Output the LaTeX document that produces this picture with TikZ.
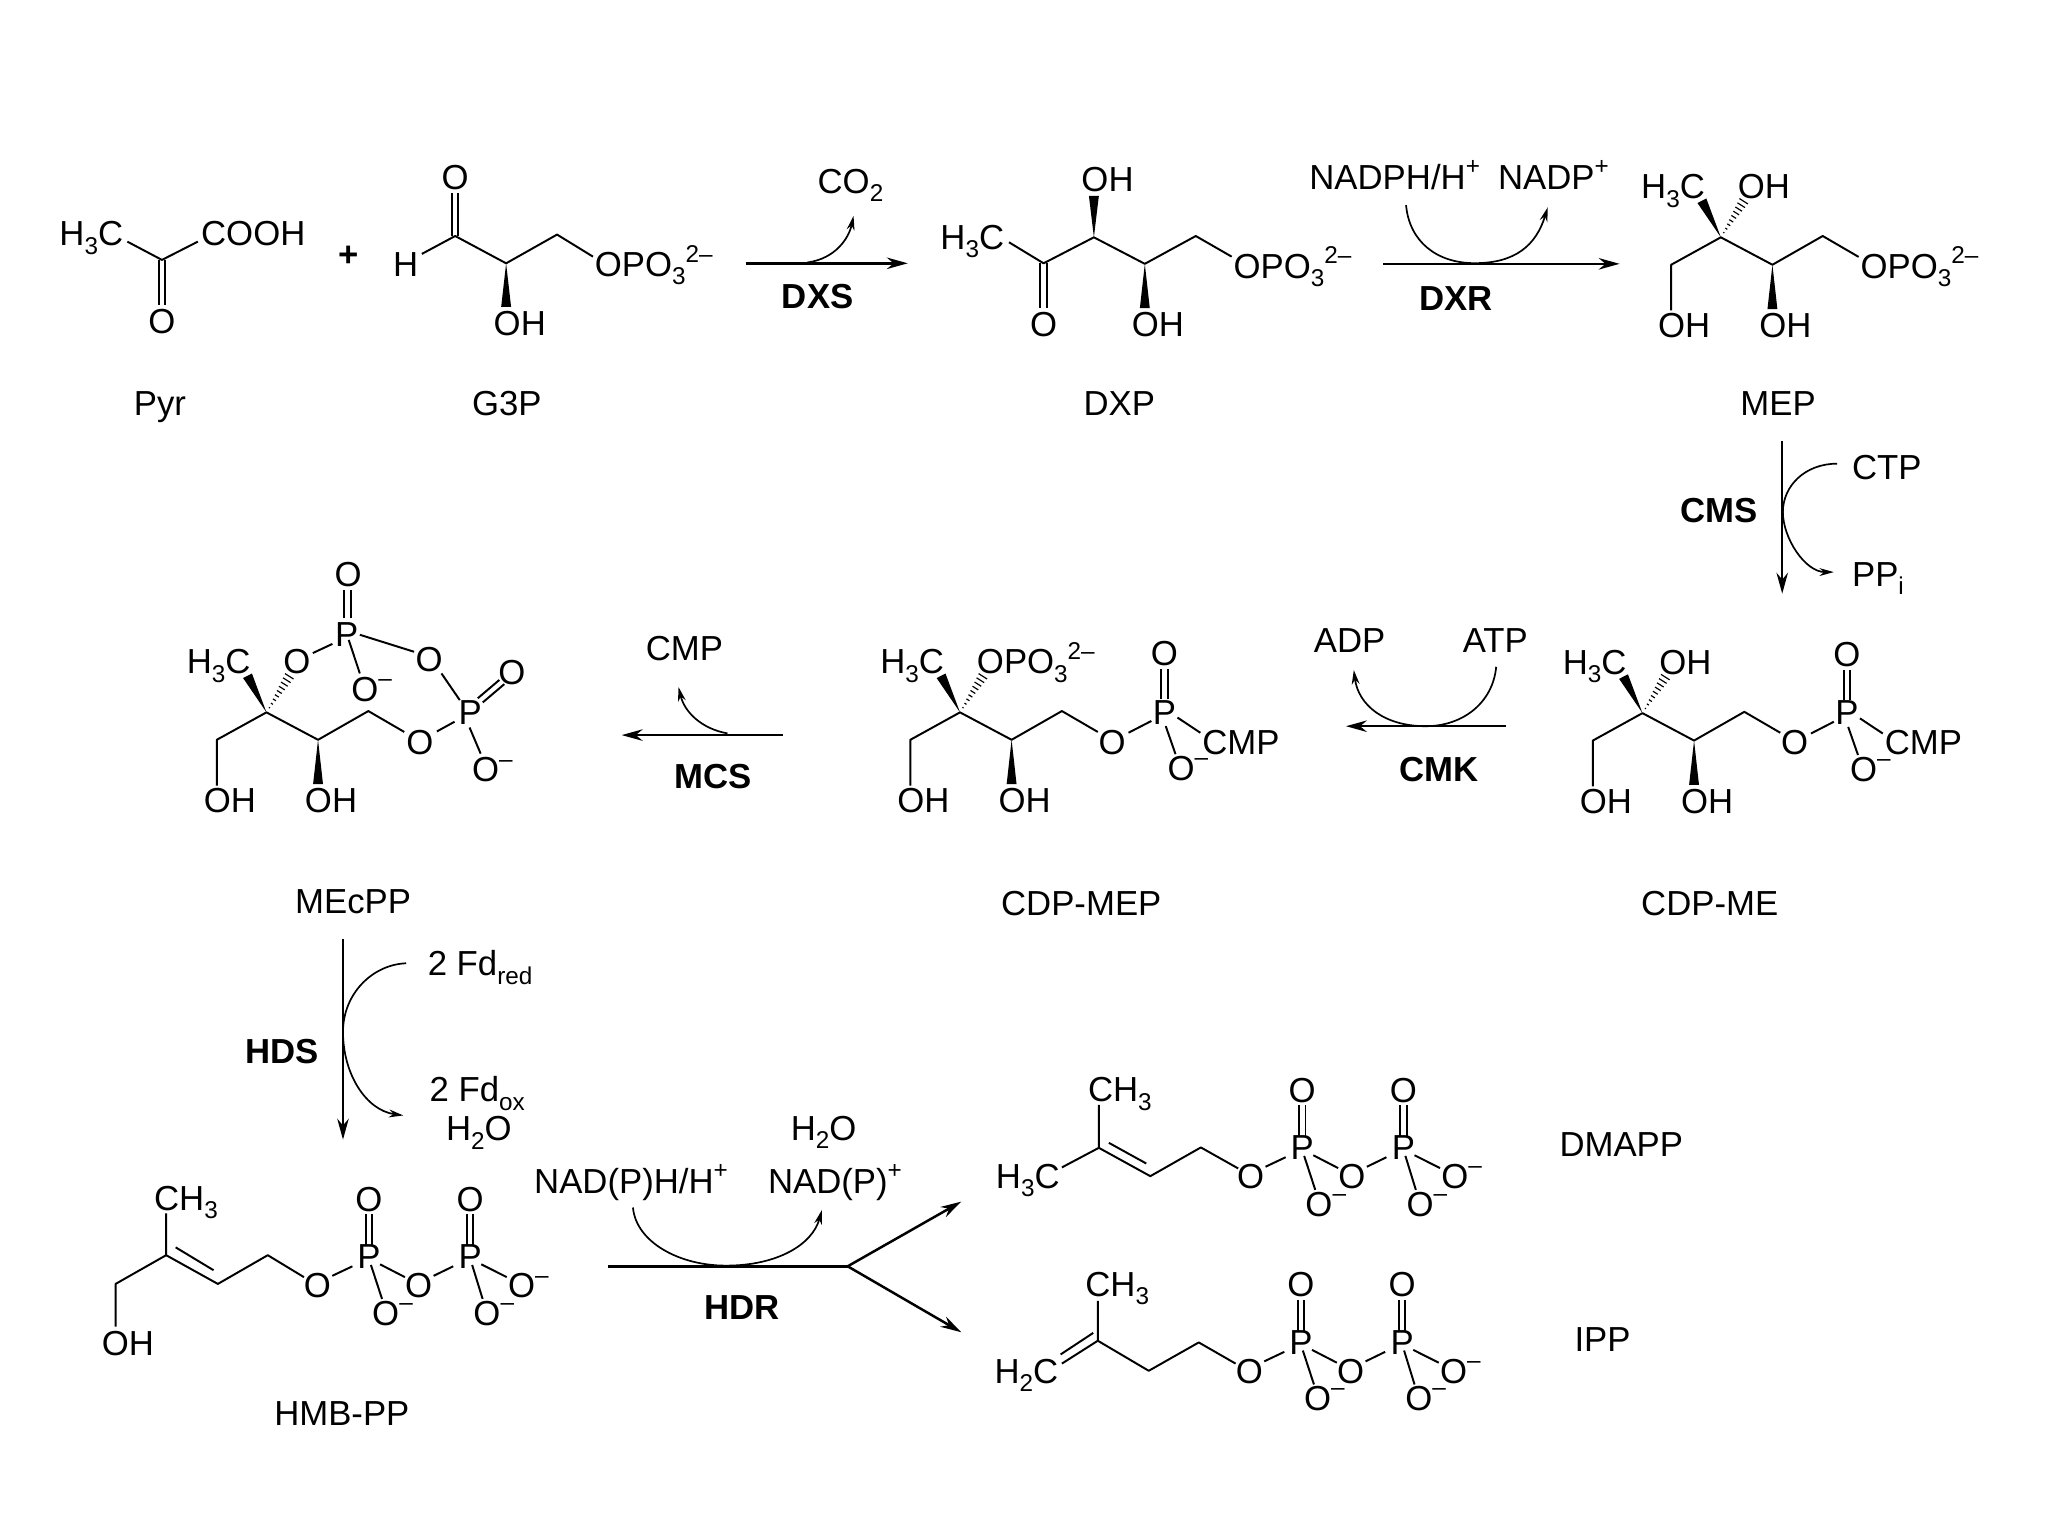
\documentclass[tikz,border=0pt]{standalone}
\usepackage{fontspec}
\setmainfont{Liberation Sans}
\usetikzlibrary{arrows.meta,calc}
\newcommand{\sbb}[1]{\raisebox{-3.2pt}{\fontsize{9.3}{10}\selectfont #1}}
\newcommand{\spp}[1]{\raisebox{5.6pt}{\fontsize{9.3}{10}\selectfont #1}}
\newcommand{\opo}{OPO\sbb{3}\spp{2–}}
\newcommand{\atl}[3]{\node[atom,anchor=base west] (#1) at (#2) {#3};}
\newcommand{\atc}[3]{\node[atom,anchor=base] (#1) at (#2) {#3};}
\newcommand{\wdg}[2]{\fill ($#1$) -- ($($#2$)!1.9pt!90:($#1$)$) -- ($($#2$)!1.9pt!-90:($#1$)$) -- cycle;}
\newcommand{\hsh}[2]{\foreach \f in {0.12,0.22,0.32,0.42,0.52,0.62,0.72,0.82,0.92}{\pgfmathsetmacro{\dd}{\f*2.1}\coordinate (hp) at ($#1!\f!#2$);\draw[line width=.45pt] ($(hp)!\dd pt!90:#2$) -- ($(hp)!\dd pt!-90:#2$);}}
% backbone: #1 prefix, #2 position of quaternary carbon, #3 substituent text
\newcommand{\backb}[3]{\begin{scope}[shift={(#2)}]
\draw[bond] (-38,56) -- (-38,21) -- (0,0) -- (39.5,21) -- (78,-1) -- (105.5,15);
\wdg{(0,0)}{(-14.5,-28)}
\wdg{(39.5,21)}{(39.5,55)}
\hsh{(0,0)}{(19,-30)}
\atl{#1m}{-61,-29.5}{H\sbb{3}C}
\atl{#1s}{13,-29.5}{#3}
\atl{#1a}{-48,76.5}{OH}
\atl{#1b}{29.5,76.5}{OH}
\end{scope}}
% CDP tail relative to the quaternary carbon
\newcommand{\cmpt}[2]{\begin{scope}[shift={(#2)}]
\atc{#1o}{116.5,32}{O}
\atc{#1p}{156.5,9}{P}
\atc{#1t}{156.5,-35.5}{O}
\atl{#1c}{185.5,32}{CMP}
\atl{#1n}{159,52}{O\spp{–}}
\draw[bond] (129,15.6) -- (146.5,6.6) (166.5,4) -- (184,15.6) (157.5,10.5) -- (165,32);
\draw[bond] (154,-10) -- (154,-33) (159,-10) -- (159,-33);
\end{scope}}
% diphosphate relative to the first ester O (centre, baseline)
\newcommand{\dip}[2]{\begin{scope}[shift={(#2)}]
\atc{#1a}{0,0}{O}
\atc{#1b}{39.5,-22}{P}
\atc{#1c}{39.5,-66}{O}
\atl{#1d}{42,21}{O\spp{–}}
\atc{#1e}{77.5,0}{O}
\atc{#1f}{117,-22}{P}
\atc{#1g}{117,-66}{O}
\atl{#1h}{119.5,21}{O\spp{–}}
\atl{#1i}{146,0}{O\spp{–}}
\draw[bond] (11.4,-16.7) -- (26.8,-24) (41,-25) -- (49.5,1) (48,-25.5) -- (67,-15.7)
 (89,-16.7) -- (104,-24) (118.5,-25) -- (126.5,1) (125.5,-25.5) -- (145,-15.7);
\draw[bond] (37,-39.6) -- (37,-64) (42,-39.6) -- (42,-64) (114.5,-39.6) -- (114.5,-64) (119.5,-39.6) -- (119.5,-64);
\end{scope}}
\begin{document}
\begin{tikzpicture}[x=0.5pt,y=-0.5pt,
 atom/.style={inner sep=0pt,outer sep=0pt,font=\fontsize{13.3}{15}\selectfont},
 bond/.style={line width=.75pt,line join=round},
 rxn/.style={line width=.95pt,-{Stealth[length=8pt,width=4.4pt]}},
 cur/.style={line width=.65pt,-{Stealth[length=5.5pt,width=3pt]}}]
\useasboundingbox (0,0) rectangle (1568,1176);
\fill[white] (0,0) rectangle (1568,1176);

% Pyr
\atl{pyrm}{45.5,188.3}{H\sbb{3}C}
\atl{pyrc}{154,188.3}{COOH}
\atc{pyro}{124,255}{O}
\draw[bond] (97.5,185) -- (124,199) -- (151.5,185);
\draw[bond] (121.5,199) -- (121.5,233.5) (126.5,199) -- (126.5,233.5);
\atc{pyrl}{122.5,318.5}{Pyr}
\node[atom] (plus) at (267,196.5) {\bfseries +};

% G3P
\atc{gto}{348.5,145.4}{O}
\atl{gth}{301,211.8}{H}
\atl{gtp}{455.5,211.8}{\opo}
\atl{gtoh}{378,257}{OH}
\draw[bond] (323,194.4) -- (348.5,180.7) -- (387.5,201.6) -- (426.5,179.6) -- (454,196.5);
\draw[bond] (346,148) -- (346,180.7) (351,148) -- (351,180.7);
\wdg{(387.5,201.6)}{(387.5,235)}
\atc{gtl}{388,318.5}{G3P}

% DXS
\coordinate (a1s) at (571.5,201.6); \coordinate (a1e) at (695,201.6);
\draw[rxn] (a1s) -- (a1e);
\atl{co2}{626,148}{CO\sbb{2}}
\coordinate (c1s) at (618,201); \coordinate (c1e) at (653.5,165.3);
\draw[cur] (c1s) .. controls (640,198) and (650,182) .. (c1e);
\atc{dxs}{626,236.5}{\bfseries DXS}

% DXP
\atl{dxm}{720,191}{H\sbb{3}C}
\atc{dxo}{799,258}{O}
\atl{dxa}{828,146.7}{OH}
\atl{dxb}{866.5,258}{OH}
\atl{dxp}{944.5,213}{\opo}
\draw[bond] (772.5,185.5) -- (799,201.6) -- (837.5,181.7) -- (876.5,202) -- (915.5,180.7) -- (943,196.5);
\draw[bond] (796.5,201.6) -- (796.5,236) (801.5,201.6) -- (801.5,236);
\wdg{(837.5,181.7)}{(837.5,150)}
\wdg{(876.5,202)}{(876.5,236)}
\atc{dxl}{857,318.5}{DXP}

% DXR
\coordinate (a2s) at (1059,202); \coordinate (a2e) at (1240,202);
\draw[rxn] (a2s) -- (a2e);
\atl{nadph}{1002.5,145}{NADPH/H\spp{+}}
\atl{nadp}{1147,145}{NADP\spp{+}}
\coordinate (c2s) at (1076.5,157); \coordinate (c2e) at (1185,158.7);
\draw[cur] (c2s) .. controls (1079,185) and (1100,201.5) .. (1129,201.5) .. controls (1160,201.5) and (1176,188) .. (c2e);
\atl{dxr}{1086.5,238}{\bfseries DXR}

% MEP
\backb{mep}{1317.5,181.7}{OH}
\begin{scope}[shift={(1317.5,181.7)}]
\atl{mepp}{107,31.3}{\opo}
\end{scope}
\atl{mepl}{1332.5,318.5}{MEP}

% CMS
\coordinate (a3s) at (1364.5,338); \coordinate (a3e) at (1364.5,454.5);
\draw[rxn,line width=.75pt] (a3s) -- (a3e);
\atl{ctp}{1418,367}{CTP}
\atl{ppi}{1418,449}{PP\sbb{i}}
\atl{cms}{1286.5,400}{\bfseries CMS}
\coordinate (c3s) at (1406.5,355); \coordinate (c3e) at (1404,438);
\draw[cur] (c3s) .. controls (1382,355) and (1365,372) .. (1365,392) .. controls (1365,412) and (1382,438) .. (c3e);

% CDP-ME
\backb{me}{1257.5,546}{OH}
\cmpt{met}{1257.5,546}
\atl{mel}{1256.5,700.6}{CDP-ME}

% CMK
\coordinate (a4s) at (1153,556); \coordinate (a4e) at (1030.5,556);
\draw[rxn] (a4s) -- (a4e);
\atl{adp}{1006,499.6}{ADP}
\atl{atp}{1120,499.6}{ATP}
\atl{cmk}{1071.5,598}{\bfseries CMK}
\coordinate (c4s) at (1145.5,510.5); \coordinate (c4e) at (1036.5,513);
\draw[cur] (c4s) .. controls (1143,538) and (1120,556) .. (1091.5,556) .. controls (1060,556) and (1040,540) .. (c4e);

% CDP-MEP
\backb{mp}{735,545.4}{\opo}
\cmpt{mpt}{735,545.4}
\atl{mpl}{766.5,700.6}{CDP-MEP}

% MCS
\coordinate (a5s) at (599.5,562.8); \coordinate (a5e) at (476,562.8);
\draw[rxn] (a5s) -- (a5e);
\atl{cmp}{494.5,506}{CMP}
\atl{mcs}{516.5,603.6}{\bfseries MCS}
\coordinate (c5s) at (557,561.5); \coordinate (c5e) at (519.5,526);
\draw[cur] (c5s) .. controls (537,558) and (524,545) .. (c5e);

% MEcPP
\backb{ec}{204,545.4}{O}
\atc{eco}{321.5,577.6}{O}
\atc{ecp}{360,555}{P}
\atc{ecq}{392,523.7}{O}
\atl{ecn}{361.5,598.5}{O\spp{–}}
\atc{ecb}{328.5,514}{O}
\atc{ecr}{265.5,494.6}{P}
\atc{ect}{266.5,449}{O}
\atl{ecm}{269,537}{O\spp{–}}
\draw[bond] (334.5,560) -- (348,552.6) (359.5,557) -- (368,577) (352,536) -- (338,515.6)
 (239.5,500) -- (254.5,493) (275.5,486) -- (317,499) (267,490) -- (275.5,515.6);
\draw[bond] (365.8,534.6) -- (382.3,520.6) (369.6,537.8) -- (386.1,523.8);
\draw[bond] (263.5,473.5) -- (263.5,452) (268.5,473.5) -- (268.5,452);
\atl{ecl}{226,699.5}{MEcPP}

% HDS
\coordinate (a6s) at (262.6,719); \coordinate (a6e) at (262.6,872.5);
\draw[rxn,line width=.75pt] (a6s) -- (a6e);
\atl{fdr}{327.5,747}{2 Fd\sbb{red}}
\atl{fdo}{329,843.5}{2 Fd\sbb{ox}}
\atl{hto}{341.5,873.5}{H\sbb{2}O}
\atl{hds}{187.8,814.5}{\bfseries HDS}
\coordinate (c6s) at (311,737.5); \coordinate (c6e) at (308.8,854);
\draw[cur] (c6s) .. controls (285,738.5) and (262.6,761) .. (262.6,790) .. controls (262.6,822) and (280,850) .. (c6e);

% HMB-PP
\atl{hmc}{118,926.5}{CH\sbb{3}}
\atl{hmo}{78,1037.5}{OH}
\draw[bond] (127.2,929) -- (127.2,961) -- (88.5,983) -- (88.5,1015.6);
\draw[bond] (127.2,961) -- (166.8,983) -- (205,961) -- (232.7,977.8);
\draw[bond] (134.5,955) -- (163.5,972.5);
\dip{hm}{243,993.5}
\atl{hml}{210,1091.5}{HMB-PP}

% HDR
\coordinate (a7s) at (465.7,969.5); \coordinate (a7m) at (649,969.5);
\coordinate (a7u) at (736,920); \coordinate (a7d) at (736,1020);
\draw[line width=.95pt] (a7s) -- (a7m);
\draw[rxn] (a7m) -- (a7u);
\draw[rxn] (a7m) -- (a7d);
\atl{nadh}{409,913.5}{NAD(P)H/H\spp{+}}
\atl{nad}{588,913.5}{NAD(P)\spp{+}}
\atl{htw}{605.5,873}{H\sbb{2}O}
\atl{hdr}{539,1010.5}{\bfseries HDR}
\coordinate (c7s) at (484.6,924.5); \coordinate (c7e) at (629.2,926.5);
\draw[cur] (c7s) .. controls (487,951) and (520,969) .. (555.8,969) .. controls (595,969) and (622,953) .. (c7e);

% DMAPP
\atl{dmc}{833,843.6}{CH\sbb{3}}
\atl{dmm}{762.5,910}{H\sbb{3}C}
\draw[bond] (841.3,846) -- (841.3,878.8) -- (813,893.8);
\draw[bond] (841.3,878.8) -- (880.7,900.5) -- (919.4,878.5) -- (948,894.6);
\draw[bond] (849,875) -- (877.6,890.8);
\dip{dm}{957.5,910}
\atl{dml}{1194,885.7}{DMAPP}

% IPP
\atl{ipc}{831,992.3}{CH\sbb{3}}
\atl{iph}{761.5,1059}{H\sbb{2}C}
\draw[bond] (840.5,996) -- (840.5,1026.5) -- (879.5,1049.5) -- (917.8,1027.8) -- (946,1044);
\draw[bond] (840.5,1026.5) -- (813,1044) (837,1020.5) -- (812,1037);
\dip{ip}{956.5,1059}
\atl{ipl}{1205.5,1035}{IPP}
\end{tikzpicture}
\end{document}
